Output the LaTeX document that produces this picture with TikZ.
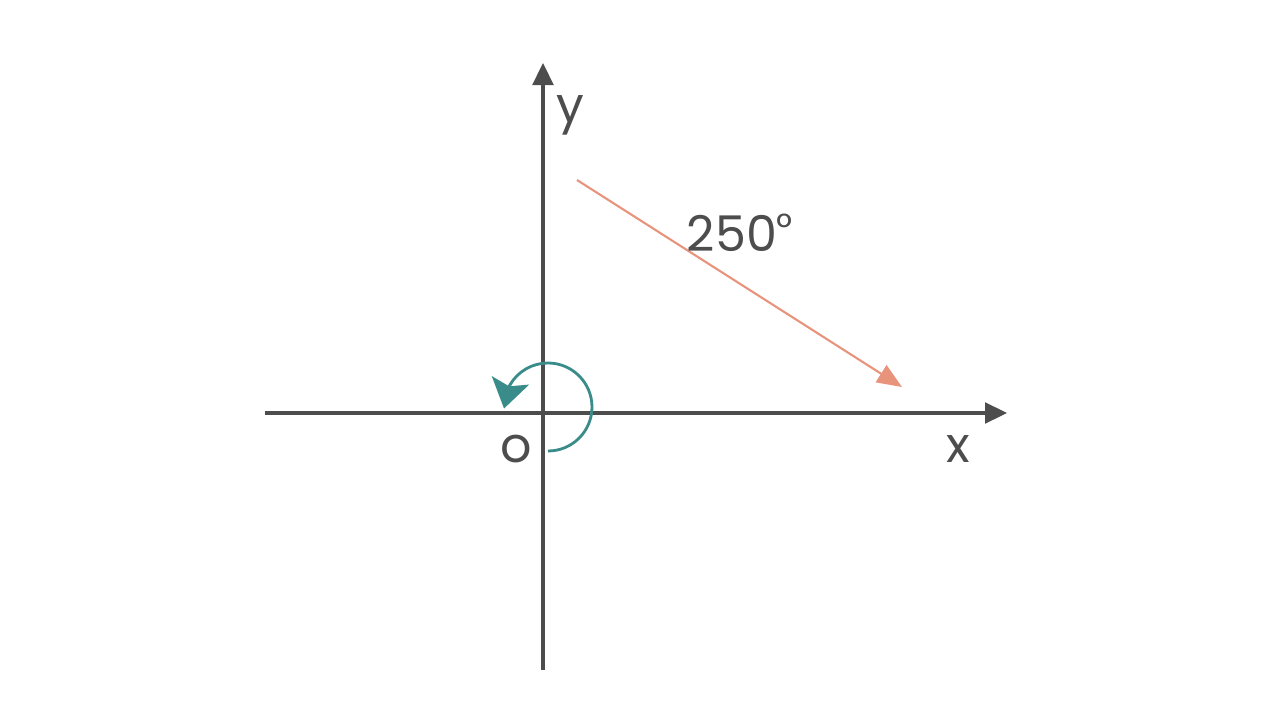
\documentclass[tikz,border=0pt]{standalone}
\usepackage{fontspec}
\setmainfont{Poppins}
\usepackage{xcolor}
\usepackage{tikz}
\usetikzlibrary{calc}
\usetikzlibrary{arrows.meta,bending}
\definecolor{axisgray}{HTML}{4D4D4D}
\definecolor{vecorange}{HTML}{E8937B}
\definecolor{turnteal}{HTML}{3A8C8A}

\begin{document}
\begin{tikzpicture}[transform shape,scale=1,
	axis line/.style={line width=2.2pt,axisgray,-{Triangle[length=0.55cm,width=0.52cm]}},
	lbl/.style={font=\fontsize{35}{40}\selectfont,text=axisgray,inner sep=0pt}]
		\useasboundingbox (-13.575,-7.675) rectangle (18.425,10.325);
		\coordinate (O) at (0,0);
		\coordinate (x start) at (-6.95,0);
		\coordinate (x end) at (11.6,0);
		\coordinate (y start) at (0,-6.425);
		\coordinate (y end) at (0,8.75);
		\draw [axis line](x start) -- (x end);
		\draw [axis line](y start) -- (y end);
		\node[lbl] (x label) at (10.375,-0.9) {x};
		\node[lbl] (y label) at (0.675,7.45) {y};
		\node[lbl] (o label) at (-0.675,-0.9) {o};
		% direction of the vector
		\coordinate (v start) at (0.85,5.825);
		\coordinate (v end) at (8.975,0.65);
		\draw[line width=1.5pt,vecorange,-{Triangle[length=0.62cm,width=0.5cm]}] (v start) -- (v end);
		\node[lbl] (angle label) at (4.925,4.5) {250\raisebox{0.2em}{\fontsize{28}{28}\selectfont°}};
		% turning arrow round the origin
		\coordinate (c) at (0.125,0.15);
		\draw[line width=2pt,turnteal,-{Stealth[length=0.72cm,width=0.95cm,inset=0.15cm,flex]}] ($(c)+(-90:1.1)$) arc (-90:182:1.1);
	\end{tikzpicture}
\end{document}
